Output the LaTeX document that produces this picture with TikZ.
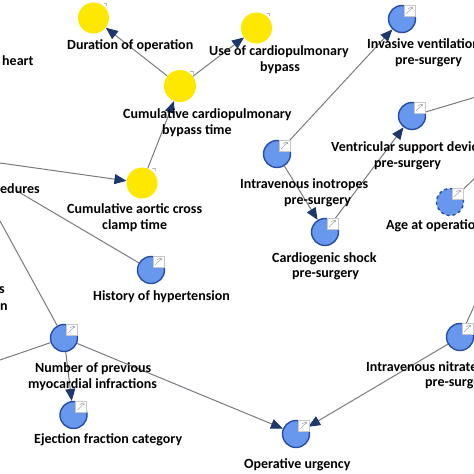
\documentclass[tikz,border=0pt]{standalone}
\usepackage{fontspec}
\setmainfont{Carlito}
\usetikzlibrary{arrows.meta,calc}
\definecolor{ycol}{RGB}{255,232,0}
\definecolor{bfill}{RGB}{104,152,238}
\definecolor{bline}{RGB}{40,76,168}
\definecolor{eline}{RGB}{120,124,130}
\definecolor{ahead}{RGB}{30,56,110}
\begin{document}
\begin{tikzpicture}[x=1pt,y=-1pt,
  ynode/.style={circle,fill=ycol,minimum size=31pt,inner sep=0pt},
  bnode/.style={circle,fill=bfill,draw=bline,line width=1.4pt,minimum size=27pt,inner sep=0pt},
  lab/.style={anchor=west,inner sep=0pt,font=\fontsize{14}{16}\selectfont\bfseries},
  edgeln/.style={draw=eline,line width=1pt},
  arr/.style={edgeln,-{Triangle[length=12pt,width=10pt,fill=ahead,color=ahead]}},
  iconsq/.style={fill=white,draw=gray!45,line width=0.5pt},
  iconln/.style={draw=gray!70,line width=0.5pt},
]
\useasboundingbox (0,0) rectangle (474,474);
\clip (0,0) rectangle (474,474);
\fill[white] (0,0) rectangle (474,474);

% yellow nodes
\node[ynode] (dur) at (93.5,18) {};
\node[ynode] (use) at (256.5,28) {};
\node[ynode,minimum size=32pt] (cpb) at (180,86) {};
\node[ynode] (acc) at (142,183) {};

% blue nodes
\node[bnode] (hyp) at (151,270) {};
\node[bnode] (nmi) at (64,338) {};
\node[bnode] (ef) at (73.5,415) {};
\node[bnode] (ou) at (296,434) {};
\node[bnode] (nit) at (460,337) {};
\node[bnode] (ivi) at (277,154) {};
\node[bnode] (inv) at (402,19) {};
\node[bnode] (vsd) at (412,116) {};
\node[bnode,dashed] (age) at (450,202) {};
\node[bnode] (cs) at (325,232) {};

% off-picture ends
\coordinate (L1) at (0,163);
\coordinate (L2) at (17,191);
\coordinate (L3) at (0,221);
\coordinate (L4) at (0,360);
\coordinate (R1) at (476,302);
\coordinate (R2) at (476,97);
\coordinate (R3) at (476,177);

% connectors
\draw[arr] (cpb) -- (dur);
\draw[arr] (cpb) -- (use);
\draw[arr] (acc) -- (cpb);
\draw[arr] (L1) -- (acc);
\draw[edgeln] (L2) -- (hyp);
\draw[edgeln] (L3) -- (nmi);
\draw[edgeln] (L4) -- (nmi);
\draw[arr] (nmi) -- (ef);
\draw[arr] (nmi) -- (ou);
\draw[arr] (nit) -- (ou);
\draw[edgeln] (nit) -- (R1);
\draw[arr] (ivi) -- (inv);
\draw[arr] (ivi) -- (cs);
\draw[arr] (cs) -- (vsd);
\draw[edgeln] (vsd) -- (R2);
\draw[edgeln] (age) -- (R3);

% small icons on the nodes
\foreach \n in {hyp,nmi,ef,ou,nit,ivi,inv,vsd,age,cs}{
  \draw[iconsq] ([shift={(2,-3)}]\n.center) rectangle ++(11,-11);
  \draw[iconln] ([shift={(4,-5)}]\n.center) -- ++(7,-7);
  \draw[iconln] ([shift={(6,-10)}]\n.center) -- ++(3,-2) -- ++(2,2);
}
\foreach \n in {dur,use,cpb,acc}{
  \draw[gray!55,line width=0.5pt] ([shift={(10,-15)}]\n.center) -- ++(3,0) -- ++(0,3);
}

% labels
\node[lab] (t-dur) at (67,46) {Duration of operation};
\node[lab] (t-use1) at (209,52) {Use of cardiopulmonary};
\node[lab] (t-use2) at (260,68) {bypass};
\node[lab] (t-cpb1) at (123,115) {Cumulative cardiopulmonary};
\node[lab] (t-cpb2) at (162,131) {bypass time};
\node[lab] (t-acc1) at (67,209) {Cumulative aortic cross};
\node[lab] (t-acc2) at (102,226) {clamp time};
\node[lab] (t-hyp) at (93,297) {History of hypertension};
\node[lab] (t-nmi1) at (35,369) {Number of previous};
\node[lab] (t-nmi2) at (28,385) {myocardial infractions};
\node[lab] (t-ef) at (34,440) {Ejection fraction category};
\node[lab] (t-ou) at (244,465) {Operative urgency};
\node[lab] (t-nit1) at (366,367) {Intravenous nitrates};
\node[lab] (t-nit2) at (425,384) {pre-surgery};
\node[lab] (t-ivi1) at (240,185) {Intravenous inotropes};
\node[lab] (t-ivi2) at (284,202) {pre-surgery};
\node[lab] (t-cs1) at (272,259) {Cardiogenic shock};
\node[lab] (t-cs2) at (292,275) {pre-surgery};
\node[lab] (t-inv1) at (367,44) {Invasive ventilation};
\node[lab] (t-inv2) at (395,62) {pre-surgery};
\node[lab] (t-vsd1) at (331,148) {Ventricular support device};
\node[lab] (t-vsd2) at (374,165) {pre-surgery};
\node[lab] (t-age) at (386,226) {Age at operation};
\node[lab] (t-heart) at (2,61) {heart};
\node[lab] (t-proc) at (0,189) {edures};
\node[lab] (t-s) at (-1,290) {s};
\node[lab] (t-n) at (0,307) {n};
\end{tikzpicture}
\end{document}
